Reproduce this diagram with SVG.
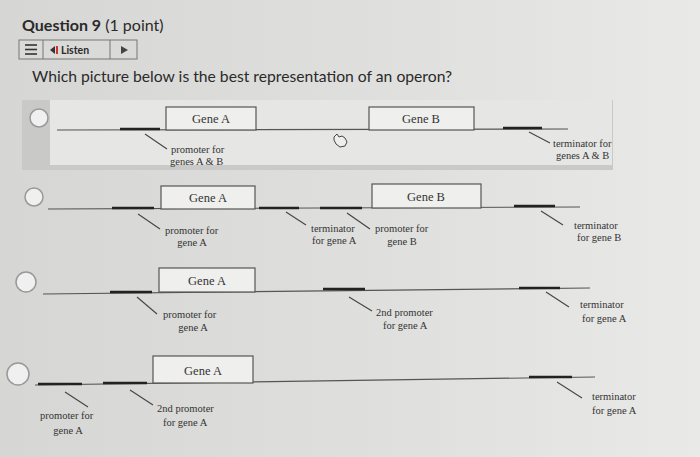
<svg xmlns="http://www.w3.org/2000/svg" width="700" height="457" viewBox="0 0 700 457">
<defs>
<linearGradient id="bg" x1="0" y1="0" x2="1" y2="0">
<stop offset="0" stop-color="#d6d6d4"/>
<stop offset="0.6" stop-color="#e0e0de"/>
<stop offset="1" stop-color="#e9e9e7"/>
</linearGradient>
<style>
.h{font-family:Lato,"Liberation Sans",sans-serif;fill:#2a2a2a}
.t{font-family:"Liberation Serif","DejaVu Serif",serif;font-size:10.5px;fill:#333}
.g{font-family:"Liberation Serif","DejaVu Serif",serif;font-size:12.5px;fill:#333}
.dna{stroke:#555;stroke-width:1.2;fill:none}
.thick{stroke:#222;stroke-width:2.6;fill:none}
.lead{stroke:#444;stroke-width:1.1;fill:none}
.box{fill:#efefed;stroke:#555;stroke-width:1.2}
.radio{fill:#f0f0f0;stroke:#999;stroke-width:1.5}
</style>
</defs>
<rect width="700" height="457" fill="url(#bg)"/>

<g id="header">
<text class="h" x="22" y="31" font-size="16"><tspan font-weight="bold">Question 9</tspan> (1 point)</text>
<rect x="19" y="40" width="118" height="19" fill="#dadad8" stroke="#777" stroke-width="1"/>
<line x1="43" y1="40" x2="43" y2="59" stroke="#777"/>
<line x1="110" y1="40" x2="110" y2="59" stroke="#777"/>
<g stroke="#333" stroke-width="1.6">
<line x1="25" y1="45" x2="37" y2="45"/><line x1="25" y1="49.5" x2="37" y2="49.5"/><line x1="25" y1="54" x2="37" y2="54"/>
</g>
<polygon points="50,50 55,46 55,54" fill="#333"/>
<rect x="56" y="46" width="2" height="8" fill="#c33"/>
<text class="h" x="61" y="54" font-size="10.5" font-weight="bold" fill="#444">Listen</text>
<polygon points="121,46 128,50 121,54" fill="#444"/>
<text class="h" x="32" y="82" font-size="15.7">Which picture below is the best representation of an operon?</text>
</g>

<g id="option1">
<rect x="22" y="100" width="591" height="70" fill="#c9c9c7"/>
<rect x="50" y="100" width="562" height="65" fill="#e6e6e4"/>
<circle class="radio" cx="39" cy="118" r="9" stroke="#4a4a8a" fill="#eeeeee"/>
<line class="dna" x1="57" y1="130" x2="568" y2="129"/>
<line class="thick" x1="120" y1="129" x2="160" y2="129"/>
<line class="thick" x1="503" y1="128" x2="542" y2="128"/>
<rect class="box" x="166" y="107" width="90" height="23"/>
<text class="g" x="211" y="123" text-anchor="middle">Gene A</text>
<rect class="box" x="369" y="107" width="105" height="23"/>
<text class="g" x="421" y="123" text-anchor="middle">Gene B</text>
<text class="t" x="171" y="153">promoter for</text>
<text class="t" x="170" y="165">genes A &amp; B</text>
<text class="t" x="553" y="147" font-size="9.2">terminator for</text>
<text class="t" x="556" y="159" font-size="9.2">genes A &amp; B</text>
<path d="M334,137 l3,-3 l2,3 l3,-1 l3,2 l2,4 l-2,4 l-5,1 l-4,-3 l-2,-4 z" fill="#eee" stroke="#444" stroke-width="1"/>
</g>

<g id="option2">
<circle class="radio" cx="34" cy="197" r="9"/>
<line class="dna" x1="48" y1="209" x2="580" y2="207"/>
<line class="thick" x1="112" y1="208" x2="154" y2="208"/>
<line class="thick" x1="259" y1="208" x2="299" y2="208"/>
<line class="thick" x1="320" y1="208" x2="362" y2="208"/>
<line class="thick" x1="514" y1="206" x2="555" y2="206"/>
<rect class="box" x="161" y="186" width="94" height="23"/>
<text class="g" x="208" y="202" text-anchor="middle">Gene A</text>
<rect class="box" x="372" y="184" width="109" height="24"/>
<text class="g" x="426" y="201" text-anchor="middle">Gene B</text>
<text class="t" x="165" y="234">promoter for</text>
<text class="t" x="192" y="246" text-anchor="middle">gene A</text>
<text class="t" x="311" y="232">terminator</text>
<text class="t" x="312" y="244">for gene A</text>
<text class="t" x="375" y="232">promoter for</text>
<text class="t" x="402" y="245" text-anchor="middle">gene B</text>
<text class="t" x="574" y="229" font-size="9.5">terminator</text>
<text class="t" x="577" y="241" font-size="9.5">for gene B</text>
</g>

<g id="option3">
<circle class="radio" cx="26" cy="282" r="10"/>
<line class="dna" x1="43" y1="294" x2="590" y2="288"/>
<line class="thick" x1="110" y1="292" x2="152" y2="292"/>
<line class="thick" x1="323" y1="289" x2="365" y2="289"/>
<line class="thick" x1="519" y1="288" x2="560" y2="288"/>
<rect class="box" x="159" y="268" width="96" height="24"/>
<text class="g" x="207" y="285" text-anchor="middle">Gene A</text>
<text class="t" x="163" y="318">promoter for</text>
<text class="t" x="193" y="331" text-anchor="middle">gene A</text>
<text class="t" x="376" y="316">2nd promoter</text>
<text class="t" x="383" y="329">for gene A</text>
<text class="t" x="580" y="308" font-size="9.5">terminator</text>
<text class="t" x="582" y="322" font-size="9.5">for gene A</text>
</g>

<g id="option4">
<circle class="radio" cx="18" cy="374" r="11"/>
<line class="dna" x1="35" y1="385" x2="595" y2="377"/>
<line class="thick" x1="38" y1="384" x2="82" y2="384"/>
<line class="thick" x1="103" y1="383" x2="147" y2="383"/>
<line class="thick" x1="529" y1="377" x2="572" y2="377"/>
<rect class="box" x="153" y="356" width="100" height="27"/>
<text class="g" x="203" y="375" text-anchor="middle">Gene A</text>
<text class="t" x="40" y="419">promoter for</text>
<text class="t" x="68" y="434" text-anchor="middle">gene A</text>
<text class="t" x="157" y="412">2nd promoter</text>
<text class="t" x="163" y="426">for gene A</text>
<text class="t" x="592" y="400" font-size="9.5">terminator</text>
<text class="t" x="592" y="414" font-size="9.5">for gene A</text>
</g>

<g id="connectors">
<line class="lead" x1="145" y1="134" x2="167" y2="149"/>
<line class="lead" x1="529" y1="132" x2="550" y2="143"/>
<line class="lead" x1="138" y1="214" x2="160" y2="229"/>
<line class="lead" x1="286" y1="212" x2="306" y2="225"/>
<line class="lead" x1="347" y1="213" x2="370" y2="229"/>
<line class="lead" x1="541" y1="211" x2="563" y2="225"/>
<line class="lead" x1="137" y1="297" x2="157" y2="314"/>
<line class="lead" x1="349" y1="297" x2="372" y2="311"/>
<line class="lead" x1="546" y1="292" x2="569" y2="307"/>
<line class="lead" x1="65" y1="392" x2="88" y2="407"/>
<line class="lead" x1="130" y1="390" x2="153" y2="405"/>
<line class="lead" x1="557" y1="382" x2="582" y2="398"/>
</g>
</svg>
